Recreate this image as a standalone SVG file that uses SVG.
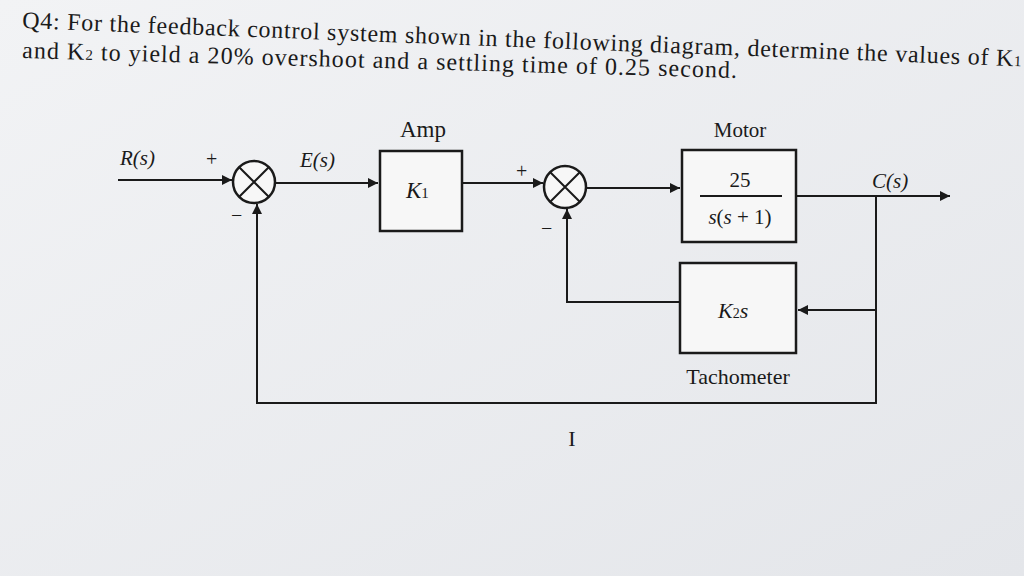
<svg xmlns="http://www.w3.org/2000/svg" width="1024" height="576" viewBox="0 0 1024 576">
<defs>
<linearGradient id="bg" x1="0" y1="0" x2="1" y2="1"><stop offset="0" stop-color="#f2f3f5"/><stop offset="1" stop-color="#e4e6ea"/></linearGradient>
<marker id="a" viewBox="0 0 10 10" refX="10" refY="5" markerWidth="18" markerHeight="10" orient="auto" markerUnits="userSpaceOnUse"><path d="M0 0L10 5L0 10z" fill="#1a1a1a"/></marker>
</defs>
<style>
.t{font-family:"Liberation Serif",serif;fill:#1a1a1a}
.l{stroke:#1a1a1a;stroke-width:2;fill:none}
.b{stroke:#1a1a1a;stroke-width:2.5;fill:#f7f7f7}
</style>
<rect width="1024" height="576" fill="url(#bg)"/>
<text class="t" x="22" y="28" font-size="24" textLength="1000" transform="rotate(2.2 22 28)">Q4: For the feedback control system shown in the following diagram, determine the values of K<tspan font-size="15">1</tspan></text>
<text class="t" x="22" y="58" font-size="24" textLength="715" transform="rotate(1.6 22 58)">and K<tspan font-size="15">2</tspan> to yield a 20% overshoot and a settling time of 0.25 second.</text>
<g id="connectors">
<path class="l" d="M118 180H232" marker-end="url(#a)"/>
<path class="l" d="M275 183H378" marker-end="url(#a)"/>
<path class="l" d="M462 183H543" marker-end="url(#a)"/>
<path class="l" d="M586 188H680" marker-end="url(#a)"/>
<path class="l" d="M796 196H950" marker-end="url(#a)"/>
<path class="l" d="M876 196V403H257V204" marker-end="url(#a)"/>
<path class="l" d="M876 310H798" marker-end="url(#a)"/>
<path class="l" d="M680 302H567V209" marker-end="url(#a)"/>
</g>
<g id="sum1"><circle cx="254" cy="182" r="21" class="b"/><path class="l" d="M239 167L269 197M269 167L239 197"/>
<text class="t" x="206" y="166" font-size="20">+</text><text class="t" x="231" y="222" font-size="20">−</text></g>
<g id="sum2"><circle cx="565" cy="187" r="21" class="b"/><path class="l" d="M550 172L580 202M580 172L550 202"/>
<text class="t" x="516" y="178" font-size="20">+</text><text class="t" x="541" y="235" font-size="20">−</text></g>
<text class="t" x="120" y="165" font-size="21" font-style="italic">R(s)</text>
<text class="t" x="300" y="167" font-size="21" font-style="italic">E(s)</text>
<text class="t" x="872" y="188" font-size="21" font-style="italic">C(s)</text>
<g id="amp"><rect x="380" y="151" width="82" height="80" class="b"/>
<text class="t" x="423" y="137" font-size="23" text-anchor="middle">Amp</text>
<text class="t" x="406" y="198" font-size="23" font-style="italic">K<tspan font-size="15" font-style="normal">1</tspan></text></g>
<g id="motor"><rect x="682" y="150" width="114" height="92" class="b"/>
<text class="t" x="740" y="137" font-size="21" text-anchor="middle">Motor</text>
<text class="t" x="740" y="187" font-size="21" text-anchor="middle">25</text>
<path class="l" d="M700 196H782" stroke-width="1.5"/>
<text class="t" x="740" y="224" font-size="21" text-anchor="middle"><tspan font-style="italic">s</tspan>(<tspan font-style="italic">s</tspan> + 1)</text></g>
<g id="tacho"><rect x="680" y="263" width="116" height="90" class="b"/>
<text class="t" x="718" y="318" font-size="22" font-style="italic">K<tspan font-size="14" font-style="normal">2</tspan>s</text>
<text class="t" x="738" y="384" font-size="22" text-anchor="middle">Tachometer</text></g>
<text class="t" x="572" y="446" font-size="22" text-anchor="middle" fill="#555">I</text>
</svg>
